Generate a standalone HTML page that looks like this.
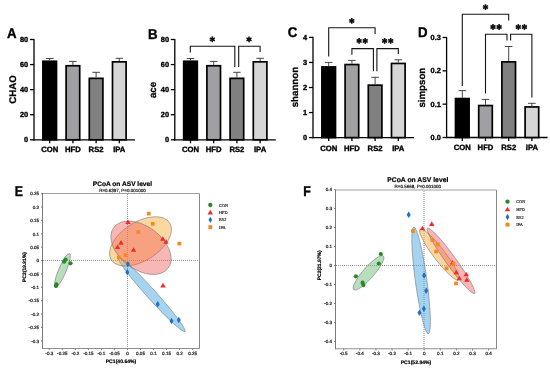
<!DOCTYPE html>
<html><head><meta charset="utf-8"><style>
html,body{margin:0;padding:0;background:#fff;}
body{width:550px;height:369px;overflow:hidden;font-family:"Liberation Sans",sans-serif;}
svg{display:block;will-change:transform;} text{text-rendering:geometricPrecision;}
</style></head><body>
<svg width="550" height="369" viewBox="0 0 550 369">
<rect width="550" height="369" fill="#fff"/>
<line x1="34.00" y1="38.90" x2="34.00" y2="140.40" stroke="#000" stroke-width="1.3" />
<line x1="30.00" y1="139.80" x2="34.00" y2="139.80" stroke="#000" stroke-width="1.3" />
<text transform="translate(28.20,142.40) skewX(0.1)" font-family="Liberation Sans" font-size="7.4" font-weight="bold" text-anchor="end" fill="#000" stroke="#000" stroke-width="0.35">0</text>
<line x1="30.00" y1="114.73" x2="34.00" y2="114.73" stroke="#000" stroke-width="1.3" />
<text transform="translate(28.20,117.33) skewX(0.1)" font-family="Liberation Sans" font-size="7.4" font-weight="bold" text-anchor="end" fill="#000" stroke="#000" stroke-width="0.35">20</text>
<line x1="30.00" y1="89.65" x2="34.00" y2="89.65" stroke="#000" stroke-width="1.3" />
<text transform="translate(28.20,92.25) skewX(0.1)" font-family="Liberation Sans" font-size="7.4" font-weight="bold" text-anchor="end" fill="#000" stroke="#000" stroke-width="0.35">40</text>
<line x1="30.00" y1="64.58" x2="34.00" y2="64.58" stroke="#000" stroke-width="1.3" />
<text transform="translate(28.20,67.17) skewX(0.1)" font-family="Liberation Sans" font-size="7.4" font-weight="bold" text-anchor="end" fill="#000" stroke="#000" stroke-width="0.35">60</text>
<line x1="30.00" y1="39.50" x2="34.00" y2="39.50" stroke="#000" stroke-width="1.3" />
<text transform="translate(28.20,42.10) skewX(0.1)" font-family="Liberation Sans" font-size="7.4" font-weight="bold" text-anchor="end" fill="#000" stroke="#000" stroke-width="0.35">80</text>
<line x1="33.40" y1="139.80" x2="135.00" y2="139.80" stroke="#000" stroke-width="1.3" />
<rect x="42.90" y="61.25" width="13.60" height="78.55" fill="#000000" stroke="#000" stroke-width="1.7"/>
<line x1="49.70" y1="58.50" x2="49.70" y2="60.40" stroke="#333" stroke-width="0.9" />
<line x1="45.90" y1="58.50" x2="53.50" y2="58.50" stroke="#333" stroke-width="0.9" />
<line x1="49.70" y1="139.80" x2="49.70" y2="143.30" stroke="#000" stroke-width="1.3" />
<text transform="translate(49.70,152.40) skewX(0.1)" font-family="Liberation Sans" font-size="7.7" font-weight="bold" text-anchor="middle" fill="#000" stroke="#000" stroke-width="0.35">CON</text>
<rect x="66.10" y="65.75" width="13.60" height="74.05" fill="#a09fa4" stroke="#000" stroke-width="1.7"/>
<line x1="72.90" y1="61.40" x2="72.90" y2="64.90" stroke="#333" stroke-width="0.9" />
<line x1="69.10" y1="61.40" x2="76.70" y2="61.40" stroke="#333" stroke-width="0.9" />
<line x1="72.90" y1="139.80" x2="72.90" y2="143.30" stroke="#000" stroke-width="1.3" />
<text transform="translate(72.90,152.40) skewX(0.1)" font-family="Liberation Sans" font-size="7.7" font-weight="bold" text-anchor="middle" fill="#000" stroke="#000" stroke-width="0.35">HFD</text>
<rect x="89.30" y="78.35" width="13.60" height="61.45" fill="#808080" stroke="#000" stroke-width="1.7"/>
<line x1="96.10" y1="72.30" x2="96.10" y2="77.50" stroke="#333" stroke-width="0.9" />
<line x1="92.30" y1="72.30" x2="99.90" y2="72.30" stroke="#333" stroke-width="0.9" />
<line x1="96.10" y1="139.80" x2="96.10" y2="143.30" stroke="#000" stroke-width="1.3" />
<text transform="translate(96.10,152.40) skewX(0.1)" font-family="Liberation Sans" font-size="7.7" font-weight="bold" text-anchor="middle" fill="#000" stroke="#000" stroke-width="0.35">RS2</text>
<rect x="112.50" y="61.85" width="13.60" height="77.95" fill="#d6d6d6" stroke="#000" stroke-width="1.7"/>
<line x1="119.30" y1="58.30" x2="119.30" y2="61.00" stroke="#333" stroke-width="0.9" />
<line x1="115.50" y1="58.30" x2="123.10" y2="58.30" stroke="#333" stroke-width="0.9" />
<line x1="119.30" y1="139.80" x2="119.30" y2="143.30" stroke="#000" stroke-width="1.3" />
<text transform="translate(119.30,152.40) skewX(0.1)" font-family="Liberation Sans" font-size="7.7" font-weight="bold" text-anchor="middle" fill="#000" stroke="#000" stroke-width="0.35">IPA</text>
<text transform="translate(7.00,38.00) scale(1.0,1.06) skewX(0.1)" font-family="Liberation Sans" font-size="13.3" font-weight="bold" fill="#000" stroke="#000" stroke-width="0.35">A</text>
<text transform="translate(15.90,89.40) rotate(-90) skewX(0.1)" font-family="Liberation Sans" font-size="9.7" font-weight="bold" text-anchor="middle" stroke="#000" stroke-width="0.25">CHAO</text>
<line x1="174.80" y1="38.90" x2="174.80" y2="140.40" stroke="#000" stroke-width="1.3" />
<line x1="170.80" y1="139.80" x2="174.80" y2="139.80" stroke="#000" stroke-width="1.3" />
<text transform="translate(169.00,142.40) skewX(0.1)" font-family="Liberation Sans" font-size="7.4" font-weight="bold" text-anchor="end" fill="#000" stroke="#000" stroke-width="0.35">0</text>
<line x1="170.80" y1="114.73" x2="174.80" y2="114.73" stroke="#000" stroke-width="1.3" />
<text transform="translate(169.00,117.33) skewX(0.1)" font-family="Liberation Sans" font-size="7.4" font-weight="bold" text-anchor="end" fill="#000" stroke="#000" stroke-width="0.35">20</text>
<line x1="170.80" y1="89.65" x2="174.80" y2="89.65" stroke="#000" stroke-width="1.3" />
<text transform="translate(169.00,92.25) skewX(0.1)" font-family="Liberation Sans" font-size="7.4" font-weight="bold" text-anchor="end" fill="#000" stroke="#000" stroke-width="0.35">40</text>
<line x1="170.80" y1="64.58" x2="174.80" y2="64.58" stroke="#000" stroke-width="1.3" />
<text transform="translate(169.00,67.17) skewX(0.1)" font-family="Liberation Sans" font-size="7.4" font-weight="bold" text-anchor="end" fill="#000" stroke="#000" stroke-width="0.35">60</text>
<line x1="170.80" y1="39.50" x2="174.80" y2="39.50" stroke="#000" stroke-width="1.3" />
<text transform="translate(169.00,42.10) skewX(0.1)" font-family="Liberation Sans" font-size="7.4" font-weight="bold" text-anchor="end" fill="#000" stroke="#000" stroke-width="0.35">80</text>
<line x1="174.20" y1="139.80" x2="275.80" y2="139.80" stroke="#000" stroke-width="1.3" />
<rect x="183.70" y="61.25" width="13.60" height="78.55" fill="#000000" stroke="#000" stroke-width="1.7"/>
<line x1="190.50" y1="58.50" x2="190.50" y2="60.40" stroke="#333" stroke-width="0.9" />
<line x1="186.70" y1="58.50" x2="194.30" y2="58.50" stroke="#333" stroke-width="0.9" />
<line x1="190.50" y1="139.80" x2="190.50" y2="143.30" stroke="#000" stroke-width="1.3" />
<text transform="translate(190.50,152.40) skewX(0.1)" font-family="Liberation Sans" font-size="7.7" font-weight="bold" text-anchor="middle" fill="#000" stroke="#000" stroke-width="0.35">CON</text>
<rect x="206.90" y="65.75" width="13.60" height="74.05" fill="#a09fa4" stroke="#000" stroke-width="1.7"/>
<line x1="213.70" y1="61.40" x2="213.70" y2="64.90" stroke="#333" stroke-width="0.9" />
<line x1="209.90" y1="61.40" x2="217.50" y2="61.40" stroke="#333" stroke-width="0.9" />
<line x1="213.70" y1="139.80" x2="213.70" y2="143.30" stroke="#000" stroke-width="1.3" />
<text transform="translate(213.70,152.40) skewX(0.1)" font-family="Liberation Sans" font-size="7.7" font-weight="bold" text-anchor="middle" fill="#000" stroke="#000" stroke-width="0.35">HFD</text>
<rect x="230.10" y="78.35" width="13.60" height="61.45" fill="#808080" stroke="#000" stroke-width="1.7"/>
<line x1="236.90" y1="72.30" x2="236.90" y2="77.50" stroke="#333" stroke-width="0.9" />
<line x1="233.10" y1="72.30" x2="240.70" y2="72.30" stroke="#333" stroke-width="0.9" />
<line x1="236.90" y1="139.80" x2="236.90" y2="143.30" stroke="#000" stroke-width="1.3" />
<text transform="translate(236.90,152.40) skewX(0.1)" font-family="Liberation Sans" font-size="7.7" font-weight="bold" text-anchor="middle" fill="#000" stroke="#000" stroke-width="0.35">RS2</text>
<rect x="253.30" y="61.85" width="13.60" height="77.95" fill="#d6d6d6" stroke="#000" stroke-width="1.7"/>
<line x1="260.10" y1="58.30" x2="260.10" y2="61.00" stroke="#333" stroke-width="0.9" />
<line x1="256.30" y1="58.30" x2="263.90" y2="58.30" stroke="#333" stroke-width="0.9" />
<line x1="260.10" y1="139.80" x2="260.10" y2="143.30" stroke="#000" stroke-width="1.3" />
<text transform="translate(260.10,152.40) skewX(0.1)" font-family="Liberation Sans" font-size="7.7" font-weight="bold" text-anchor="middle" fill="#000" stroke="#000" stroke-width="0.35">IPA</text>
<text transform="translate(148.00,39.00) scale(1.0,1.06) skewX(0.1)" font-family="Liberation Sans" font-size="13.3" font-weight="bold" fill="#000" stroke="#000" stroke-width="0.35">B</text>
<text transform="translate(156.00,90.00) rotate(-90) skewX(0.1)" font-family="Liberation Sans" font-size="9.7" font-weight="bold" text-anchor="middle" stroke="#000" stroke-width="0.25">ace</text>
<polyline points="190.30,52.50 190.30,46.20 234.80,46.20 234.80,67.00" fill="none" stroke="#151515" stroke-width="1.1"/>
<polyline points="238.70,67.00 238.70,46.20 260.10,46.20 260.10,52.00" fill="none" stroke="#151515" stroke-width="1.1"/>
<circle cx="212.30" cy="39.30" r="1.3" fill="#111"/>
<line x1="212.30" y1="36.40" x2="212.30" y2="42.20" stroke="#111" stroke-width="1.6" />
<line x1="209.79" y1="37.85" x2="214.81" y2="40.75" stroke="#111" stroke-width="1.6" />
<line x1="214.81" y1="37.85" x2="209.79" y2="40.75" stroke="#111" stroke-width="1.6" />
<circle cx="249.00" cy="39.30" r="1.3" fill="#111"/>
<line x1="249.00" y1="36.40" x2="249.00" y2="42.20" stroke="#111" stroke-width="1.6" />
<line x1="246.49" y1="37.85" x2="251.51" y2="40.75" stroke="#111" stroke-width="1.6" />
<line x1="251.51" y1="37.85" x2="246.49" y2="40.75" stroke="#111" stroke-width="1.6" />
<line x1="313.00" y1="36.80" x2="313.00" y2="138.20" stroke="#000" stroke-width="1.3" />
<line x1="309.00" y1="137.60" x2="313.00" y2="137.60" stroke="#000" stroke-width="1.3" />
<text transform="translate(307.20,140.20) skewX(0.1)" font-family="Liberation Sans" font-size="7.4" font-weight="bold" text-anchor="end" fill="#000" stroke="#000" stroke-width="0.35">0</text>
<line x1="309.00" y1="112.55" x2="313.00" y2="112.55" stroke="#000" stroke-width="1.3" />
<text transform="translate(307.20,115.15) skewX(0.1)" font-family="Liberation Sans" font-size="7.4" font-weight="bold" text-anchor="end" fill="#000" stroke="#000" stroke-width="0.35">1</text>
<line x1="309.00" y1="87.50" x2="313.00" y2="87.50" stroke="#000" stroke-width="1.3" />
<text transform="translate(307.20,90.10) skewX(0.1)" font-family="Liberation Sans" font-size="7.4" font-weight="bold" text-anchor="end" fill="#000" stroke="#000" stroke-width="0.35">2</text>
<line x1="309.00" y1="62.45" x2="313.00" y2="62.45" stroke="#000" stroke-width="1.3" />
<text transform="translate(307.20,65.05) skewX(0.1)" font-family="Liberation Sans" font-size="7.4" font-weight="bold" text-anchor="end" fill="#000" stroke="#000" stroke-width="0.35">3</text>
<line x1="309.00" y1="37.40" x2="313.00" y2="37.40" stroke="#000" stroke-width="1.3" />
<text transform="translate(307.20,40.00) skewX(0.1)" font-family="Liberation Sans" font-size="7.4" font-weight="bold" text-anchor="end" fill="#000" stroke="#000" stroke-width="0.35">4</text>
<line x1="312.40" y1="137.60" x2="414.00" y2="137.60" stroke="#000" stroke-width="1.3" />
<rect x="321.90" y="66.95" width="13.60" height="70.65" fill="#000000" stroke="#000" stroke-width="1.7"/>
<line x1="328.70" y1="62.40" x2="328.70" y2="66.10" stroke="#333" stroke-width="0.9" />
<line x1="324.90" y1="62.40" x2="332.50" y2="62.40" stroke="#333" stroke-width="0.9" />
<line x1="328.70" y1="137.60" x2="328.70" y2="141.10" stroke="#000" stroke-width="1.3" />
<text transform="translate(328.70,150.50) skewX(0.1)" font-family="Liberation Sans" font-size="7.7" font-weight="bold" text-anchor="middle" fill="#000" stroke="#000" stroke-width="0.35">CON</text>
<rect x="345.10" y="64.55" width="13.60" height="73.05" fill="#a09fa4" stroke="#000" stroke-width="1.7"/>
<line x1="351.90" y1="60.40" x2="351.90" y2="63.70" stroke="#333" stroke-width="0.9" />
<line x1="348.10" y1="60.40" x2="355.70" y2="60.40" stroke="#333" stroke-width="0.9" />
<line x1="351.90" y1="137.60" x2="351.90" y2="141.10" stroke="#000" stroke-width="1.3" />
<text transform="translate(351.90,150.50) skewX(0.1)" font-family="Liberation Sans" font-size="7.7" font-weight="bold" text-anchor="middle" fill="#000" stroke="#000" stroke-width="0.35">HFD</text>
<rect x="368.30" y="85.15" width="13.60" height="52.45" fill="#808080" stroke="#000" stroke-width="1.7"/>
<line x1="375.10" y1="77.30" x2="375.10" y2="84.30" stroke="#333" stroke-width="0.9" />
<line x1="371.30" y1="77.30" x2="378.90" y2="77.30" stroke="#333" stroke-width="0.9" />
<line x1="375.10" y1="137.60" x2="375.10" y2="141.10" stroke="#000" stroke-width="1.3" />
<text transform="translate(375.10,150.50) skewX(0.1)" font-family="Liberation Sans" font-size="7.7" font-weight="bold" text-anchor="middle" fill="#000" stroke="#000" stroke-width="0.35">RS2</text>
<rect x="391.50" y="63.45" width="13.60" height="74.15" fill="#d6d6d6" stroke="#000" stroke-width="1.7"/>
<line x1="398.30" y1="59.80" x2="398.30" y2="62.60" stroke="#333" stroke-width="0.9" />
<line x1="394.50" y1="59.80" x2="402.10" y2="59.80" stroke="#333" stroke-width="0.9" />
<line x1="398.30" y1="137.60" x2="398.30" y2="141.10" stroke="#000" stroke-width="1.3" />
<text transform="translate(398.30,150.50) skewX(0.1)" font-family="Liberation Sans" font-size="7.7" font-weight="bold" text-anchor="middle" fill="#000" stroke="#000" stroke-width="0.35">IPA</text>
<text transform="translate(287.80,37.40) scale(1.0,1.06) skewX(0.1)" font-family="Liberation Sans" font-size="13.3" font-weight="bold" fill="#000" stroke="#000" stroke-width="0.35">C</text>
<text transform="translate(298.20,87.10) rotate(-90) skewX(0.1)" font-family="Liberation Sans" font-size="9.7" font-weight="bold" text-anchor="middle" stroke="#000" stroke-width="0.25">shannon</text>
<polyline points="328.70,56.40 328.70,27.80 375.10,27.80 375.10,34.00" fill="none" stroke="#151515" stroke-width="1.1"/>
<polyline points="351.90,54.80 351.90,48.60 373.40,48.60 373.40,71.30" fill="none" stroke="#151515" stroke-width="1.1"/>
<polyline points="376.90,71.30 376.90,48.60 398.30,48.60 398.30,53.90" fill="none" stroke="#151515" stroke-width="1.1"/>
<circle cx="351.80" cy="20.90" r="1.3" fill="#111"/>
<line x1="351.80" y1="18.00" x2="351.80" y2="23.80" stroke="#111" stroke-width="1.6" />
<line x1="349.29" y1="19.45" x2="354.31" y2="22.35" stroke="#111" stroke-width="1.6" />
<line x1="354.31" y1="19.45" x2="349.29" y2="22.35" stroke="#111" stroke-width="1.6" />
<circle cx="359.10" cy="40.90" r="1.3" fill="#111"/>
<line x1="359.10" y1="38.00" x2="359.10" y2="43.80" stroke="#111" stroke-width="1.6" />
<line x1="356.59" y1="39.45" x2="361.61" y2="42.35" stroke="#111" stroke-width="1.6" />
<line x1="361.61" y1="39.45" x2="356.59" y2="42.35" stroke="#111" stroke-width="1.6" />
<circle cx="365.20" cy="40.90" r="1.3" fill="#111"/>
<line x1="365.20" y1="38.00" x2="365.20" y2="43.80" stroke="#111" stroke-width="1.6" />
<line x1="362.69" y1="39.45" x2="367.71" y2="42.35" stroke="#111" stroke-width="1.6" />
<line x1="367.71" y1="39.45" x2="362.69" y2="42.35" stroke="#111" stroke-width="1.6" />
<circle cx="384.60" cy="40.90" r="1.3" fill="#111"/>
<line x1="384.60" y1="38.00" x2="384.60" y2="43.80" stroke="#111" stroke-width="1.6" />
<line x1="382.09" y1="39.45" x2="387.11" y2="42.35" stroke="#111" stroke-width="1.6" />
<line x1="387.11" y1="39.45" x2="382.09" y2="42.35" stroke="#111" stroke-width="1.6" />
<circle cx="390.70" cy="40.90" r="1.3" fill="#111"/>
<line x1="390.70" y1="38.00" x2="390.70" y2="43.80" stroke="#111" stroke-width="1.6" />
<line x1="388.19" y1="39.45" x2="393.21" y2="42.35" stroke="#111" stroke-width="1.6" />
<line x1="393.21" y1="39.45" x2="388.19" y2="42.35" stroke="#111" stroke-width="1.6" />
<line x1="446.60" y1="36.90" x2="446.60" y2="138.10" stroke="#000" stroke-width="1.3" />
<line x1="442.60" y1="137.50" x2="446.60" y2="137.50" stroke="#000" stroke-width="1.3" />
<text transform="translate(440.80,140.10) skewX(0.1)" font-family="Liberation Sans" font-size="7.4" font-weight="bold" text-anchor="end" fill="#000" stroke="#000" stroke-width="0.35">0.0</text>
<line x1="442.60" y1="104.17" x2="446.60" y2="104.17" stroke="#000" stroke-width="1.3" />
<text transform="translate(440.80,106.77) skewX(0.1)" font-family="Liberation Sans" font-size="7.4" font-weight="bold" text-anchor="end" fill="#000" stroke="#000" stroke-width="0.35">0.1</text>
<line x1="442.60" y1="70.83" x2="446.60" y2="70.83" stroke="#000" stroke-width="1.3" />
<text transform="translate(440.80,73.43) skewX(0.1)" font-family="Liberation Sans" font-size="7.4" font-weight="bold" text-anchor="end" fill="#000" stroke="#000" stroke-width="0.35">0.2</text>
<line x1="442.60" y1="37.50" x2="446.60" y2="37.50" stroke="#000" stroke-width="1.3" />
<text transform="translate(440.80,40.10) skewX(0.1)" font-family="Liberation Sans" font-size="7.4" font-weight="bold" text-anchor="end" fill="#000" stroke="#000" stroke-width="0.35">0.3</text>
<line x1="446.00" y1="137.50" x2="547.60" y2="137.50" stroke="#000" stroke-width="1.3" />
<rect x="455.50" y="98.55" width="13.60" height="38.95" fill="#000000" stroke="#000" stroke-width="1.7"/>
<line x1="462.30" y1="90.60" x2="462.30" y2="97.70" stroke="#333" stroke-width="0.9" />
<line x1="458.50" y1="90.60" x2="466.10" y2="90.60" stroke="#333" stroke-width="0.9" />
<line x1="462.30" y1="137.50" x2="462.30" y2="141.00" stroke="#000" stroke-width="1.3" />
<text transform="translate(462.30,150.40) skewX(0.1)" font-family="Liberation Sans" font-size="7.7" font-weight="bold" text-anchor="middle" fill="#000" stroke="#000" stroke-width="0.35">CON</text>
<rect x="478.70" y="105.55" width="13.60" height="31.95" fill="#a09fa4" stroke="#000" stroke-width="1.7"/>
<line x1="485.50" y1="99.40" x2="485.50" y2="104.70" stroke="#333" stroke-width="0.9" />
<line x1="481.70" y1="99.40" x2="489.30" y2="99.40" stroke="#333" stroke-width="0.9" />
<line x1="485.50" y1="137.50" x2="485.50" y2="141.00" stroke="#000" stroke-width="1.3" />
<text transform="translate(485.50,150.40) skewX(0.1)" font-family="Liberation Sans" font-size="7.7" font-weight="bold" text-anchor="middle" fill="#000" stroke="#000" stroke-width="0.35">HFD</text>
<rect x="501.90" y="61.85" width="13.60" height="75.65" fill="#808080" stroke="#000" stroke-width="1.7"/>
<line x1="508.70" y1="46.50" x2="508.70" y2="61.00" stroke="#333" stroke-width="0.9" />
<line x1="504.90" y1="46.50" x2="512.50" y2="46.50" stroke="#333" stroke-width="0.9" />
<line x1="508.70" y1="137.50" x2="508.70" y2="141.00" stroke="#000" stroke-width="1.3" />
<text transform="translate(508.70,150.40) skewX(0.1)" font-family="Liberation Sans" font-size="7.7" font-weight="bold" text-anchor="middle" fill="#000" stroke="#000" stroke-width="0.35">RS2</text>
<rect x="525.10" y="106.95" width="13.60" height="30.55" fill="#d6d6d6" stroke="#000" stroke-width="1.7"/>
<line x1="531.90" y1="103.30" x2="531.90" y2="106.10" stroke="#333" stroke-width="0.9" />
<line x1="528.10" y1="103.30" x2="535.70" y2="103.30" stroke="#333" stroke-width="0.9" />
<line x1="531.90" y1="137.50" x2="531.90" y2="141.00" stroke="#000" stroke-width="1.3" />
<text transform="translate(531.90,150.40) skewX(0.1)" font-family="Liberation Sans" font-size="7.7" font-weight="bold" text-anchor="middle" fill="#000" stroke="#000" stroke-width="0.35">IPA</text>
<text transform="translate(418.00,37.00) scale(1.0,1.06) skewX(0.1)" font-family="Liberation Sans" font-size="13.3" font-weight="bold" fill="#000" stroke="#000" stroke-width="0.35">D</text>
<text transform="translate(425.10,87.70) rotate(-90) skewX(0.1)" font-family="Liberation Sans" font-size="9.7" font-weight="bold" text-anchor="middle" stroke="#000" stroke-width="0.25">simpson</text>
<polyline points="462.30,86.00 462.30,14.20 508.70,14.20 508.70,20.40" fill="none" stroke="#151515" stroke-width="1.1"/>
<polyline points="485.50,93.60 485.50,34.20 507.00,34.20 507.00,40.40" fill="none" stroke="#151515" stroke-width="1.1"/>
<polyline points="510.60,40.40 510.60,34.20 531.90,34.20 531.90,97.60" fill="none" stroke="#151515" stroke-width="1.1"/>
<circle cx="485.50" cy="7.10" r="1.3" fill="#111"/>
<line x1="485.50" y1="4.20" x2="485.50" y2="10.00" stroke="#111" stroke-width="1.6" />
<line x1="482.99" y1="5.65" x2="488.01" y2="8.55" stroke="#111" stroke-width="1.6" />
<line x1="488.01" y1="5.65" x2="482.99" y2="8.55" stroke="#111" stroke-width="1.6" />
<circle cx="493.00" cy="27.00" r="1.3" fill="#111"/>
<line x1="493.00" y1="24.10" x2="493.00" y2="29.90" stroke="#111" stroke-width="1.6" />
<line x1="490.49" y1="25.55" x2="495.51" y2="28.45" stroke="#111" stroke-width="1.6" />
<line x1="495.51" y1="25.55" x2="490.49" y2="28.45" stroke="#111" stroke-width="1.6" />
<circle cx="499.10" cy="27.00" r="1.3" fill="#111"/>
<line x1="499.10" y1="24.10" x2="499.10" y2="29.90" stroke="#111" stroke-width="1.6" />
<line x1="496.59" y1="25.55" x2="501.61" y2="28.45" stroke="#111" stroke-width="1.6" />
<line x1="501.61" y1="25.55" x2="496.59" y2="28.45" stroke="#111" stroke-width="1.6" />
<circle cx="518.30" cy="27.00" r="1.3" fill="#111"/>
<line x1="518.30" y1="24.10" x2="518.30" y2="29.90" stroke="#111" stroke-width="1.6" />
<line x1="515.79" y1="25.55" x2="520.81" y2="28.45" stroke="#111" stroke-width="1.6" />
<line x1="520.81" y1="25.55" x2="515.79" y2="28.45" stroke="#111" stroke-width="1.6" />
<circle cx="524.40" cy="27.00" r="1.3" fill="#111"/>
<line x1="524.40" y1="24.10" x2="524.40" y2="29.90" stroke="#111" stroke-width="1.6" />
<line x1="521.89" y1="25.55" x2="526.91" y2="28.45" stroke="#111" stroke-width="1.6" />
<line x1="526.91" y1="25.55" x2="521.89" y2="28.45" stroke="#111" stroke-width="1.6" />
<line x1="42.50" y1="193.50" x2="199.50" y2="193.50" stroke="#a0a0a0" stroke-width="1.1" />
<line x1="199.50" y1="193.50" x2="199.50" y2="348.50" stroke="#8a8a8a" stroke-width="1.0" />
<line x1="42.50" y1="193.00" x2="42.50" y2="349.00" stroke="#7a7a7a" stroke-width="1.0" />
<line x1="42.00" y1="348.50" x2="200.00" y2="348.50" stroke="#909090" stroke-width="1.1" />
<line x1="43.00" y1="260.50" x2="199.00" y2="260.50" stroke="#939393" stroke-width="1.0" stroke-dasharray="1,1"/>
<line x1="127.50" y1="194.00" x2="127.50" y2="348.00" stroke="#939393" stroke-width="1.0" stroke-dasharray="1,1"/>
<line x1="41.00" y1="193.60" x2="42.50" y2="193.60" stroke="#666" stroke-width="0.8" />
<text transform="translate(39.10,195.40) skewX(0.1)" font-family="Liberation Sans" font-size="4.6" font-weight="normal" text-anchor="end" fill="#1a1a1a" stroke="#1a1a1a" stroke-width="0.2">0.25</text>
<line x1="41.00" y1="206.98" x2="42.50" y2="206.98" stroke="#666" stroke-width="0.8" />
<text transform="translate(39.10,208.78) skewX(0.1)" font-family="Liberation Sans" font-size="4.6" font-weight="normal" text-anchor="end" fill="#1a1a1a" stroke="#1a1a1a" stroke-width="0.2">0.2</text>
<line x1="41.00" y1="220.36" x2="42.50" y2="220.36" stroke="#666" stroke-width="0.8" />
<text transform="translate(39.10,222.16) skewX(0.1)" font-family="Liberation Sans" font-size="4.6" font-weight="normal" text-anchor="end" fill="#1a1a1a" stroke="#1a1a1a" stroke-width="0.2">0.15</text>
<line x1="41.00" y1="233.74" x2="42.50" y2="233.74" stroke="#666" stroke-width="0.8" />
<text transform="translate(39.10,235.54) skewX(0.1)" font-family="Liberation Sans" font-size="4.6" font-weight="normal" text-anchor="end" fill="#1a1a1a" stroke="#1a1a1a" stroke-width="0.2">0.1</text>
<line x1="41.00" y1="247.12" x2="42.50" y2="247.12" stroke="#666" stroke-width="0.8" />
<text transform="translate(39.10,248.92) skewX(0.1)" font-family="Liberation Sans" font-size="4.6" font-weight="normal" text-anchor="end" fill="#1a1a1a" stroke="#1a1a1a" stroke-width="0.2">0.05</text>
<line x1="41.00" y1="260.50" x2="42.50" y2="260.50" stroke="#666" stroke-width="0.8" />
<text transform="translate(39.10,262.30) skewX(0.1)" font-family="Liberation Sans" font-size="4.6" font-weight="normal" text-anchor="end" fill="#1a1a1a" stroke="#1a1a1a" stroke-width="0.2">0</text>
<line x1="41.00" y1="273.88" x2="42.50" y2="273.88" stroke="#666" stroke-width="0.8" />
<text transform="translate(39.10,275.68) skewX(0.1)" font-family="Liberation Sans" font-size="4.6" font-weight="normal" text-anchor="end" fill="#1a1a1a" stroke="#1a1a1a" stroke-width="0.2">-0.05</text>
<line x1="41.00" y1="287.26" x2="42.50" y2="287.26" stroke="#666" stroke-width="0.8" />
<text transform="translate(39.10,289.06) skewX(0.1)" font-family="Liberation Sans" font-size="4.6" font-weight="normal" text-anchor="end" fill="#1a1a1a" stroke="#1a1a1a" stroke-width="0.2">-0.1</text>
<line x1="41.00" y1="300.64" x2="42.50" y2="300.64" stroke="#666" stroke-width="0.8" />
<text transform="translate(39.10,302.44) skewX(0.1)" font-family="Liberation Sans" font-size="4.6" font-weight="normal" text-anchor="end" fill="#1a1a1a" stroke="#1a1a1a" stroke-width="0.2">-0.15</text>
<line x1="41.00" y1="314.02" x2="42.50" y2="314.02" stroke="#666" stroke-width="0.8" />
<text transform="translate(39.10,315.82) skewX(0.1)" font-family="Liberation Sans" font-size="4.6" font-weight="normal" text-anchor="end" fill="#1a1a1a" stroke="#1a1a1a" stroke-width="0.2">-0.2</text>
<line x1="41.00" y1="327.40" x2="42.50" y2="327.40" stroke="#666" stroke-width="0.8" />
<text transform="translate(39.10,329.20) skewX(0.1)" font-family="Liberation Sans" font-size="4.6" font-weight="normal" text-anchor="end" fill="#1a1a1a" stroke="#1a1a1a" stroke-width="0.2">-0.25</text>
<line x1="41.00" y1="340.78" x2="42.50" y2="340.78" stroke="#666" stroke-width="0.8" />
<text transform="translate(39.10,342.58) skewX(0.1)" font-family="Liberation Sans" font-size="4.6" font-weight="normal" text-anchor="end" fill="#1a1a1a" stroke="#1a1a1a" stroke-width="0.2">-0.3</text>
<line x1="49.30" y1="348.50" x2="49.30" y2="350.10" stroke="#666" stroke-width="0.8" />
<text transform="translate(49.30,354.90) skewX(0.1)" font-family="Liberation Sans" font-size="4.6" font-weight="normal" text-anchor="middle" fill="#1a1a1a" stroke="#1a1a1a" stroke-width="0.2">-0.3</text>
<line x1="62.33" y1="348.50" x2="62.33" y2="350.10" stroke="#666" stroke-width="0.8" />
<text transform="translate(62.33,354.90) skewX(0.1)" font-family="Liberation Sans" font-size="4.6" font-weight="normal" text-anchor="middle" fill="#1a1a1a" stroke="#1a1a1a" stroke-width="0.2">-0.25</text>
<line x1="75.36" y1="348.50" x2="75.36" y2="350.10" stroke="#666" stroke-width="0.8" />
<text transform="translate(75.36,354.90) skewX(0.1)" font-family="Liberation Sans" font-size="4.6" font-weight="normal" text-anchor="middle" fill="#1a1a1a" stroke="#1a1a1a" stroke-width="0.2">-0.2</text>
<line x1="88.39" y1="348.50" x2="88.39" y2="350.10" stroke="#666" stroke-width="0.8" />
<text transform="translate(88.39,354.90) skewX(0.1)" font-family="Liberation Sans" font-size="4.6" font-weight="normal" text-anchor="middle" fill="#1a1a1a" stroke="#1a1a1a" stroke-width="0.2">-0.15</text>
<line x1="101.42" y1="348.50" x2="101.42" y2="350.10" stroke="#666" stroke-width="0.8" />
<text transform="translate(101.42,354.90) skewX(0.1)" font-family="Liberation Sans" font-size="4.6" font-weight="normal" text-anchor="middle" fill="#1a1a1a" stroke="#1a1a1a" stroke-width="0.2">-0.1</text>
<line x1="114.45" y1="348.50" x2="114.45" y2="350.10" stroke="#666" stroke-width="0.8" />
<text transform="translate(114.45,354.90) skewX(0.1)" font-family="Liberation Sans" font-size="4.6" font-weight="normal" text-anchor="middle" fill="#1a1a1a" stroke="#1a1a1a" stroke-width="0.2">-0.05</text>
<line x1="127.48" y1="348.50" x2="127.48" y2="350.10" stroke="#666" stroke-width="0.8" />
<text transform="translate(127.48,354.90) skewX(0.1)" font-family="Liberation Sans" font-size="4.6" font-weight="normal" text-anchor="middle" fill="#1a1a1a" stroke="#1a1a1a" stroke-width="0.2">0</text>
<line x1="140.51" y1="348.50" x2="140.51" y2="350.10" stroke="#666" stroke-width="0.8" />
<text transform="translate(140.51,354.90) skewX(0.1)" font-family="Liberation Sans" font-size="4.6" font-weight="normal" text-anchor="middle" fill="#1a1a1a" stroke="#1a1a1a" stroke-width="0.2">0.05</text>
<line x1="153.54" y1="348.50" x2="153.54" y2="350.10" stroke="#666" stroke-width="0.8" />
<text transform="translate(153.54,354.90) skewX(0.1)" font-family="Liberation Sans" font-size="4.6" font-weight="normal" text-anchor="middle" fill="#1a1a1a" stroke="#1a1a1a" stroke-width="0.2">0.1</text>
<line x1="166.57" y1="348.50" x2="166.57" y2="350.10" stroke="#666" stroke-width="0.8" />
<text transform="translate(166.57,354.90) skewX(0.1)" font-family="Liberation Sans" font-size="4.6" font-weight="normal" text-anchor="middle" fill="#1a1a1a" stroke="#1a1a1a" stroke-width="0.2">0.15</text>
<line x1="179.60" y1="348.50" x2="179.60" y2="350.10" stroke="#666" stroke-width="0.8" />
<text transform="translate(179.60,354.90) skewX(0.1)" font-family="Liberation Sans" font-size="4.6" font-weight="normal" text-anchor="middle" fill="#1a1a1a" stroke="#1a1a1a" stroke-width="0.2">0.2</text>
<line x1="192.63" y1="348.50" x2="192.63" y2="350.10" stroke="#666" stroke-width="0.8" />
<text transform="translate(192.63,354.90) skewX(0.1)" font-family="Liberation Sans" font-size="4.6" font-weight="normal" text-anchor="middle" fill="#1a1a1a" stroke="#1a1a1a" stroke-width="0.2">0.25</text>
<text transform="translate(14.70,196.30) scale(0.95,1.1) skewX(0.1)" font-family="Liberation Sans" font-size="13.0" font-weight="bold" fill="#000" stroke="#000" stroke-width="0.35">E</text>
<text transform="translate(122.40,186.40) skewX(0.1)" font-family="Liberation Sans" font-size="6.6" font-weight="bold" text-anchor="middle" fill="#000" stroke="#000" stroke-width="0.2">PCoA on ASV level</text>
<text transform="translate(122.40,192.40) skewX(0.1)" font-family="Liberation Sans" font-size="4.5" font-weight="normal" text-anchor="middle" fill="#111" stroke="#111" stroke-width="0.18">R=0.6397, P=0.001000</text>
<text transform="translate(121.00,362.60) skewX(0.1)" font-family="Liberation Sans" font-size="5.1" font-weight="bold" text-anchor="middle" fill="#000" stroke="#000" stroke-width="0.2">PC1(40.64%)</text>
<text transform="translate(25.60,267.00) rotate(-90) skewX(0.1)" font-family="Liberation Sans" font-size="5" font-weight="bold" text-anchor="middle" stroke="#000" stroke-width="0.2">PC2(19.91%)</text>
<circle cx="210.30" cy="205.00" r="2.15" fill="#2a862a"/>
<polygon points="210.30,209.79 207.60,214.39 213.00,214.39" fill="#ee2a2a"/>
<polygon points="210.30,216.65 212.10,219.80 210.30,222.95 208.50,219.80" fill="#1f6ec8"/>
<rect x="208.35" y="225.25" width="3.9" height="3.9" fill="#f7871e"/>
<text transform="translate(219.00,206.50) skewX(0.1)" font-family="Liberation Serif" font-size="4.3" font-weight="normal" text-anchor="start" fill="#1a1a1a" stroke="#1a1a1a" stroke-width="0.15">CON</text>
<text transform="translate(219.00,213.90) skewX(0.1)" font-family="Liberation Serif" font-size="4.3" font-weight="normal" text-anchor="start" fill="#1a1a1a" stroke="#1a1a1a" stroke-width="0.15">HFD</text>
<text transform="translate(219.00,221.30) skewX(0.1)" font-family="Liberation Serif" font-size="4.3" font-weight="normal" text-anchor="start" fill="#1a1a1a" stroke="#1a1a1a" stroke-width="0.15">RS2</text>
<text transform="translate(219.00,228.70) skewX(0.1)" font-family="Liberation Serif" font-size="4.3" font-weight="normal" text-anchor="start" fill="#1a1a1a" stroke="#1a1a1a" stroke-width="0.15">IPA</text>
<ellipse cx="62.35" cy="270.50" rx="18.40" ry="3.80" transform="rotate(-67.10 62.35 270.50)" fill="rgb(115,189,125)" fill-opacity="0.5" stroke="#6a6a6a" stroke-width="0.55" stroke-opacity="0.9"/>
<ellipse cx="151.50" cy="294.30" rx="50.10" ry="4.70" transform="rotate(48.00 151.50 294.30)" fill="rgb(75,169,225)" fill-opacity="0.5" stroke="#6a6a6a" stroke-width="0.55" stroke-opacity="0.9"/>
<ellipse cx="140.50" cy="241.40" rx="34.60" ry="19.30" transform="rotate(-32.30 140.50 241.40)" fill="rgb(251,175,65)" fill-opacity="0.5" stroke="#6a6a6a" stroke-width="0.55" stroke-opacity="0.9"/>
<ellipse cx="141.00" cy="247.80" rx="34.00" ry="21.60" transform="rotate(36.70 141.00 247.80)" fill="rgb(239,95,88)" fill-opacity="0.45" stroke="#6a6a6a" stroke-width="0.55" stroke-opacity="0.9"/>
<circle cx="64.10" cy="261.70" r="2.1" fill="#2a862a"/>
<circle cx="65.50" cy="259.60" r="2.1" fill="#2a862a"/>
<circle cx="70.50" cy="263.30" r="2.1" fill="#2a862a"/>
<circle cx="56.50" cy="284.40" r="2.1" fill="#2a862a"/>
<circle cx="56.00" cy="286.00" r="2.1" fill="#2a862a"/>
<polygon points="128.00,219.44 125.30,224.04 130.70,224.04" fill="#ee2a2a"/>
<polygon points="121.00,240.04 118.30,244.64 123.70,244.64" fill="#ee2a2a"/>
<polygon points="117.50,244.44 114.80,249.04 120.20,249.04" fill="#ee2a2a"/>
<polygon points="133.50,247.14 130.80,251.74 136.20,251.74" fill="#ee2a2a"/>
<polygon points="162.80,236.24 160.10,240.84 165.50,240.84" fill="#ee2a2a"/>
<polygon points="166.00,239.24 163.30,243.84 168.70,243.84" fill="#ee2a2a"/>
<polygon points="163.00,282.84 160.30,287.44 165.70,287.44" fill="#ee2a2a"/>
<rect x="146.85" y="211.75" width="3.7" height="3.7" fill="#f7871e"/>
<rect x="150.85" y="221.95" width="3.7" height="3.7" fill="#f7871e"/>
<rect x="136.55" y="230.15" width="3.7" height="3.7" fill="#f7871e"/>
<rect x="177.45" y="241.75" width="3.7" height="3.7" fill="#f7871e"/>
<rect x="116.95" y="255.65" width="3.7" height="3.7" fill="#f7871e"/>
<rect x="123.55" y="253.45" width="3.7" height="3.7" fill="#f7871e"/>
<polygon points="127.90,260.90 129.90,264.10 127.90,267.30 125.90,264.10" fill="#1f6ec8"/>
<polygon points="127.30,269.00 129.30,272.20 127.30,275.40 125.30,272.20" fill="#1f6ec8"/>
<polygon points="157.70,301.00 159.70,304.20 157.70,307.40 155.70,304.20" fill="#1f6ec8"/>
<polygon points="171.50,317.80 173.50,321.00 171.50,324.20 169.50,321.00" fill="#1f6ec8"/>
<polygon points="178.80,316.80 180.80,320.00 178.80,323.20 176.80,320.00" fill="#1f6ec8"/>
<line x1="335.50" y1="190.00" x2="496.50" y2="190.00" stroke="#a0a0a0" stroke-width="1.1" />
<line x1="496.50" y1="190.00" x2="496.50" y2="348.80" stroke="#8a8a8a" stroke-width="1.0" />
<line x1="335.50" y1="189.50" x2="335.50" y2="349.30" stroke="#7a7a7a" stroke-width="1.0" />
<line x1="335.00" y1="348.80" x2="497.00" y2="348.80" stroke="#909090" stroke-width="1.1" />
<line x1="336.00" y1="265.50" x2="496.00" y2="265.50" stroke="#939393" stroke-width="1.0" stroke-dasharray="1,1"/>
<line x1="424.00" y1="191.00" x2="424.00" y2="348.30" stroke="#939393" stroke-width="1.0" stroke-dasharray="1,1"/>
<line x1="334.00" y1="189.50" x2="335.50" y2="189.50" stroke="#666" stroke-width="0.8" />
<text transform="translate(332.10,191.30) skewX(0.1)" font-family="Liberation Sans" font-size="4.6" font-weight="normal" text-anchor="end" fill="#1a1a1a" stroke="#1a1a1a" stroke-width="0.2">0.4</text>
<line x1="334.00" y1="208.50" x2="335.50" y2="208.50" stroke="#666" stroke-width="0.8" />
<text transform="translate(332.10,210.30) skewX(0.1)" font-family="Liberation Sans" font-size="4.6" font-weight="normal" text-anchor="end" fill="#1a1a1a" stroke="#1a1a1a" stroke-width="0.2">0.3</text>
<line x1="334.00" y1="227.50" x2="335.50" y2="227.50" stroke="#666" stroke-width="0.8" />
<text transform="translate(332.10,229.30) skewX(0.1)" font-family="Liberation Sans" font-size="4.6" font-weight="normal" text-anchor="end" fill="#1a1a1a" stroke="#1a1a1a" stroke-width="0.2">0.2</text>
<line x1="334.00" y1="246.50" x2="335.50" y2="246.50" stroke="#666" stroke-width="0.8" />
<text transform="translate(332.10,248.30) skewX(0.1)" font-family="Liberation Sans" font-size="4.6" font-weight="normal" text-anchor="end" fill="#1a1a1a" stroke="#1a1a1a" stroke-width="0.2">0.1</text>
<line x1="334.00" y1="265.50" x2="335.50" y2="265.50" stroke="#666" stroke-width="0.8" />
<text transform="translate(332.10,267.30) skewX(0.1)" font-family="Liberation Sans" font-size="4.6" font-weight="normal" text-anchor="end" fill="#1a1a1a" stroke="#1a1a1a" stroke-width="0.2">0</text>
<line x1="334.00" y1="284.50" x2="335.50" y2="284.50" stroke="#666" stroke-width="0.8" />
<text transform="translate(332.10,286.30) skewX(0.1)" font-family="Liberation Sans" font-size="4.6" font-weight="normal" text-anchor="end" fill="#1a1a1a" stroke="#1a1a1a" stroke-width="0.2">-0.1</text>
<line x1="334.00" y1="303.50" x2="335.50" y2="303.50" stroke="#666" stroke-width="0.8" />
<text transform="translate(332.10,305.30) skewX(0.1)" font-family="Liberation Sans" font-size="4.6" font-weight="normal" text-anchor="end" fill="#1a1a1a" stroke="#1a1a1a" stroke-width="0.2">-0.2</text>
<line x1="334.00" y1="322.50" x2="335.50" y2="322.50" stroke="#666" stroke-width="0.8" />
<text transform="translate(332.10,324.30) skewX(0.1)" font-family="Liberation Sans" font-size="4.6" font-weight="normal" text-anchor="end" fill="#1a1a1a" stroke="#1a1a1a" stroke-width="0.2">-0.3</text>
<line x1="334.00" y1="341.50" x2="335.50" y2="341.50" stroke="#666" stroke-width="0.8" />
<text transform="translate(332.10,343.30) skewX(0.1)" font-family="Liberation Sans" font-size="4.6" font-weight="normal" text-anchor="end" fill="#1a1a1a" stroke="#1a1a1a" stroke-width="0.2">-0.4</text>
<line x1="343.70" y1="348.80" x2="343.70" y2="350.40" stroke="#666" stroke-width="0.8" />
<text transform="translate(343.70,355.20) skewX(0.1)" font-family="Liberation Sans" font-size="4.6" font-weight="normal" text-anchor="middle" fill="#1a1a1a" stroke="#1a1a1a" stroke-width="0.2">-0.5</text>
<line x1="359.80" y1="348.80" x2="359.80" y2="350.40" stroke="#666" stroke-width="0.8" />
<text transform="translate(359.80,355.20) skewX(0.1)" font-family="Liberation Sans" font-size="4.6" font-weight="normal" text-anchor="middle" fill="#1a1a1a" stroke="#1a1a1a" stroke-width="0.2">-0.4</text>
<line x1="375.90" y1="348.80" x2="375.90" y2="350.40" stroke="#666" stroke-width="0.8" />
<text transform="translate(375.90,355.20) skewX(0.1)" font-family="Liberation Sans" font-size="4.6" font-weight="normal" text-anchor="middle" fill="#1a1a1a" stroke="#1a1a1a" stroke-width="0.2">-0.3</text>
<line x1="392.00" y1="348.80" x2="392.00" y2="350.40" stroke="#666" stroke-width="0.8" />
<text transform="translate(392.00,355.20) skewX(0.1)" font-family="Liberation Sans" font-size="4.6" font-weight="normal" text-anchor="middle" fill="#1a1a1a" stroke="#1a1a1a" stroke-width="0.2">-0.2</text>
<line x1="408.10" y1="348.80" x2="408.10" y2="350.40" stroke="#666" stroke-width="0.8" />
<text transform="translate(408.10,355.20) skewX(0.1)" font-family="Liberation Sans" font-size="4.6" font-weight="normal" text-anchor="middle" fill="#1a1a1a" stroke="#1a1a1a" stroke-width="0.2">-0.1</text>
<line x1="424.20" y1="348.80" x2="424.20" y2="350.40" stroke="#666" stroke-width="0.8" />
<text transform="translate(424.20,355.20) skewX(0.1)" font-family="Liberation Sans" font-size="4.6" font-weight="normal" text-anchor="middle" fill="#1a1a1a" stroke="#1a1a1a" stroke-width="0.2">0</text>
<line x1="440.30" y1="348.80" x2="440.30" y2="350.40" stroke="#666" stroke-width="0.8" />
<text transform="translate(440.30,355.20) skewX(0.1)" font-family="Liberation Sans" font-size="4.6" font-weight="normal" text-anchor="middle" fill="#1a1a1a" stroke="#1a1a1a" stroke-width="0.2">0.1</text>
<line x1="456.40" y1="348.80" x2="456.40" y2="350.40" stroke="#666" stroke-width="0.8" />
<text transform="translate(456.40,355.20) skewX(0.1)" font-family="Liberation Sans" font-size="4.6" font-weight="normal" text-anchor="middle" fill="#1a1a1a" stroke="#1a1a1a" stroke-width="0.2">0.2</text>
<line x1="472.50" y1="348.80" x2="472.50" y2="350.40" stroke="#666" stroke-width="0.8" />
<text transform="translate(472.50,355.20) skewX(0.1)" font-family="Liberation Sans" font-size="4.6" font-weight="normal" text-anchor="middle" fill="#1a1a1a" stroke="#1a1a1a" stroke-width="0.2">0.3</text>
<line x1="488.60" y1="348.80" x2="488.60" y2="350.40" stroke="#666" stroke-width="0.8" />
<text transform="translate(488.60,355.20) skewX(0.1)" font-family="Liberation Sans" font-size="4.6" font-weight="normal" text-anchor="middle" fill="#1a1a1a" stroke="#1a1a1a" stroke-width="0.2">0.4</text>
<text transform="translate(303.30,196.30) scale(0.95,1.1) skewX(0.1)" font-family="Liberation Sans" font-size="13.0" font-weight="bold" fill="#000" stroke="#000" stroke-width="0.35">F</text>
<text transform="translate(417.80,182.40) skewX(0.1)" font-family="Liberation Sans" font-size="6.8" font-weight="bold" text-anchor="middle" fill="#000" stroke="#000" stroke-width="0.2">PCoA on ASV level</text>
<text transform="translate(417.80,188.20) skewX(0.1)" font-family="Liberation Sans" font-size="4.5" font-weight="normal" text-anchor="middle" fill="#111" stroke="#111" stroke-width="0.18">R=0.5668, P=0.001000</text>
<text transform="translate(416.00,363.80) skewX(0.1)" font-family="Liberation Sans" font-size="5.1" font-weight="bold" text-anchor="middle" fill="#000" stroke="#000" stroke-width="0.2">PC1(52.94%)</text>
<text transform="translate(320.60,265.30) rotate(-90) skewX(0.1)" font-family="Liberation Sans" font-size="5" font-weight="bold" text-anchor="middle" stroke="#000" stroke-width="0.2">PC2(21.97%)</text>
<circle cx="507.50" cy="201.70" r="2.15" fill="#2a862a"/>
<polygon points="507.50,206.74 504.80,211.34 510.20,211.34" fill="#ee2a2a"/>
<polygon points="507.50,213.85 509.30,217.00 507.50,220.15 505.70,217.00" fill="#1f6ec8"/>
<rect x="505.55" y="222.70" width="3.9" height="3.9" fill="#f7871e"/>
<text transform="translate(516.20,203.20) skewX(0.1)" font-family="Liberation Serif" font-size="4.3" font-weight="normal" text-anchor="start" fill="#1a1a1a" stroke="#1a1a1a" stroke-width="0.15">CON</text>
<text transform="translate(516.20,210.85) skewX(0.1)" font-family="Liberation Serif" font-size="4.3" font-weight="normal" text-anchor="start" fill="#1a1a1a" stroke="#1a1a1a" stroke-width="0.15">HFD</text>
<text transform="translate(516.20,218.50) skewX(0.1)" font-family="Liberation Serif" font-size="4.3" font-weight="normal" text-anchor="start" fill="#1a1a1a" stroke="#1a1a1a" stroke-width="0.15">RS2</text>
<text transform="translate(516.20,226.15) skewX(0.1)" font-family="Liberation Serif" font-size="4.3" font-weight="normal" text-anchor="start" fill="#1a1a1a" stroke="#1a1a1a" stroke-width="0.15">IPA</text>
<ellipse cx="368.55" cy="272.80" rx="22.40" ry="5.60" transform="rotate(-48.70 368.55 272.80)" fill="rgb(115,189,125)" fill-opacity="0.5" stroke="#6a6a6a" stroke-width="0.55" stroke-opacity="0.9"/>
<ellipse cx="421.10" cy="280.50" rx="53.90" ry="5.80" transform="rotate(82.20 421.10 280.50)" fill="rgb(75,169,225)" fill-opacity="0.5" stroke="#6a6a6a" stroke-width="0.55" stroke-opacity="0.9"/>
<ellipse cx="439.40" cy="254.60" rx="32.00" ry="5.80" transform="rotate(52.80 439.40 254.60)" fill="rgb(251,175,65)" fill-opacity="0.5" stroke="#6a6a6a" stroke-width="0.55" stroke-opacity="0.9"/>
<ellipse cx="451.10" cy="260.90" rx="40.20" ry="5.00" transform="rotate(54.20 451.10 260.90)" fill="rgb(239,95,88)" fill-opacity="0.45" stroke="#6a6a6a" stroke-width="0.55" stroke-opacity="0.9"/>
<circle cx="380.80" cy="254.00" r="2.1" fill="#2a862a"/>
<circle cx="378.80" cy="263.50" r="2.1" fill="#2a862a"/>
<circle cx="355.90" cy="276.30" r="2.1" fill="#2a862a"/>
<circle cx="362.60" cy="282.70" r="2.1" fill="#2a862a"/>
<circle cx="363.40" cy="285.10" r="2.1" fill="#2a862a"/>
<polygon points="422.50,225.74 419.80,230.34 425.20,230.34" fill="#ee2a2a"/>
<polygon points="431.70,221.34 429.00,225.94 434.40,225.94" fill="#ee2a2a"/>
<polygon points="452.60,259.94 449.90,264.54 455.30,264.54" fill="#ee2a2a"/>
<polygon points="456.20,269.64 453.50,274.24 458.90,274.24" fill="#ee2a2a"/>
<polygon points="459.30,275.74 456.60,280.34 462.00,280.34" fill="#ee2a2a"/>
<polygon points="466.20,271.64 463.50,276.24 468.90,276.24" fill="#ee2a2a"/>
<polygon points="466.80,277.14 464.10,281.74 469.50,281.74" fill="#ee2a2a"/>
<rect x="411.15" y="229.15" width="3.7" height="3.7" fill="#f7871e"/>
<rect x="430.45" y="238.05" width="3.7" height="3.7" fill="#f7871e"/>
<rect x="435.95" y="242.55" width="3.7" height="3.7" fill="#f7871e"/>
<rect x="434.25" y="249.65" width="3.7" height="3.7" fill="#f7871e"/>
<rect x="444.65" y="266.45" width="3.7" height="3.7" fill="#f7871e"/>
<rect x="451.75" y="261.85" width="3.7" height="3.7" fill="#f7871e"/>
<rect x="454.15" y="281.55" width="3.7" height="3.7" fill="#f7871e"/>
<polygon points="408.70,211.50 410.70,214.70 408.70,217.90 406.70,214.70" fill="#1f6ec8"/>
<polygon points="424.10,272.30 426.10,275.50 424.10,278.70 422.10,275.50" fill="#1f6ec8"/>
<polygon points="426.20,287.50 428.20,290.70 426.20,293.90 424.20,290.70" fill="#1f6ec8"/>
<polygon points="423.90,305.60 425.90,308.80 423.90,312.00 421.90,308.80" fill="#1f6ec8"/>
<polygon points="419.50,309.50 421.50,312.70 419.50,315.90 417.50,312.70" fill="#1f6ec8"/>
</svg>
</body></html>
